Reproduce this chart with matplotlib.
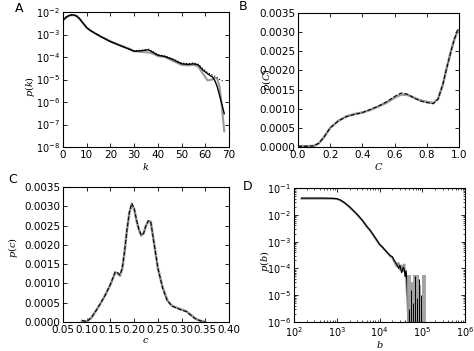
import matplotlib
matplotlib.use('Agg')
import matplotlib.pyplot as plt
from matplotlib.ticker import MultipleLocator, LogLocator

plt.rcParams['font.size'] = 7.5
plt.rcParams['mathtext.fontset'] = 'dejavuserif'
plt.rcParams['xtick.direction'] = 'in'
plt.rcParams['ytick.direction'] = 'in'
plt.rcParams['xtick.top'] = True
plt.rcParams['ytick.right'] = True

# panel A: degree distribution p(k)
kA = [0, 1, 2, 3, 4, 5, 6, 7, 8, 9, 10, 11, 12, 14, 16, 20, 24, 28, 30, 33, 36, 38, 40, 43, 46, 50, 53, 55, 57, 59, 61, 63, 64, 65, 66, 67, 68]
pA_black = [4.5e-3, 5.5e-3, 6.5e-3, 7.2e-3, 7.4e-3, 7.2e-3, 6.3e-3, 5.0e-3, 3.7e-3, 2.7e-3, 2.0e-3, 1.65e-3, 1.4e-3, 1.05e-3, 8.0e-4, 4.8e-4, 3.2e-4, 2.2e-4, 1.8e-4, 1.9e-4, 2.1e-4, 1.6e-4, 1.2e-4, 1.05e-4, 8.0e-5, 5.0e-5, 4.7e-5, 5.0e-5, 4.5e-5, 2.6e-5, 1.8e-5, 1.3e-5, 9.0e-6, 5.0e-6, 2.0e-6, 8.0e-7, 3.0e-7]
pA_dash = [4.8e-3, 5.8e-3, 6.8e-3, 7.4e-3, 7.5e-3, 7.3e-3, 6.5e-3, 5.1e-3, 3.8e-3, 2.8e-3, 2.1e-3, 1.7e-3, 1.45e-3, 1.1e-3, 8.2e-4, 5.0e-4, 3.3e-4, 2.3e-4, 1.9e-4, 2.0e-4, 2.2e-4, 1.7e-4, 1.3e-4, 1.1e-4, 8.5e-5, 5.5e-5, 5.0e-5, 5.5e-5, 4.8e-5, 3.0e-5, 2.0e-5, 1.6e-5, 1.4e-5, 1.2e-5, 1.0e-5, 9.0e-6, 8.0e-6]
pA_gray = [4.0e-3, 5.2e-3, 6.3e-3, 7.0e-3, 7.2e-3, 7.0e-3, 6.2e-3, 4.9e-3, 3.6e-3, 2.7e-3, 2.0e-3, 1.65e-3, 1.4e-3, 1.05e-3, 8.0e-4, 5.0e-4, 3.4e-4, 2.3e-4, 1.8e-4, 1.7e-4, 1.6e-4, 1.4e-4, 1.1e-4, 1.0e-4, 7.0e-5, 4.5e-5, 4.2e-5, 4.5e-5, 3.8e-5, 1.8e-5, 9.0e-6, 1.0e-5, 1.2e-5, 1.1e-5, 5.0e-6, 6.0e-7, 5.0e-8]

# panel B: p(C)
cB = [0.0, 0.05, 0.1, 0.13, 0.16, 0.2, 0.25, 0.3, 0.35, 0.4, 0.45, 0.5, 0.55, 0.6, 0.64, 0.68, 0.72, 0.76, 0.8, 0.84, 0.87, 0.9, 0.92, 0.95, 0.97, 0.99, 1.0]
pB_black = [0.00002, 0.00002, 0.00003, 0.0001, 0.00025, 0.0005, 0.00068, 0.00079, 0.00085, 0.00090, 0.00098, 0.00107, 0.00118, 0.00132, 0.00141, 0.00138, 0.00128, 0.00120, 0.00116, 0.00113, 0.00125, 0.00165, 0.0020, 0.0025, 0.0028, 0.00305, 0.00310]
pB_gray = [0.00002, 0.00002, 0.00003, 0.0001, 0.00025, 0.0005, 0.00068, 0.00080, 0.00086, 0.00090, 0.00097, 0.00106, 0.00116, 0.00129, 0.00137, 0.00136, 0.00129, 0.00122, 0.00118, 0.00115, 0.00126, 0.00163, 0.0020, 0.0025, 0.0028, 0.00300, 0.00305]

# panel C: p(c)
cC = [0.09, 0.10, 0.11, 0.12, 0.13, 0.14, 0.15, 0.16, 0.165, 0.17, 0.175, 0.18, 0.185, 0.19, 0.195, 0.20, 0.205, 0.21, 0.215, 0.22, 0.225, 0.23, 0.235, 0.24, 0.245, 0.25, 0.26, 0.27, 0.28, 0.29, 0.30, 0.31, 0.32, 0.33, 0.34, 0.35]
pC_black = [0.00004, 0.00001, 0.00012, 0.0003, 0.0005, 0.00072, 0.00098, 0.00130, 0.00128, 0.00122, 0.00140, 0.00185, 0.0024, 0.00285, 0.00308, 0.00295, 0.00265, 0.0024, 0.00225, 0.0023, 0.0025, 0.00263, 0.0026, 0.0022, 0.0018, 0.00140, 0.00088, 0.00055, 0.00041, 0.00036, 0.00031, 0.00027, 0.00017, 0.00008, 0.00003, 0.0]
pC_gray = [0.00003, 0.00001, 0.00011, 0.0003, 0.0005, 0.00072, 0.00097, 0.00128, 0.00126, 0.00120, 0.00138, 0.00183, 0.0024, 0.00283, 0.00305, 0.00293, 0.00263, 0.0024, 0.00224, 0.0023, 0.0025, 0.00261, 0.0026, 0.0022, 0.0018, 0.00140, 0.00090, 0.00056, 0.00042, 0.00037, 0.00032, 0.00028, 0.00018, 0.00008, 0.00003, 0.0]

# panel D: p(b)
bD = [150, 300, 500, 800, 1000, 1200, 1500, 2000, 2500, 3000, 4000, 5000, 6000, 8000, 10000, 12000, 15000, 18000, 20000, 22000, 25000, 28000, 30000, 33000, 36000, 38000, 40000, 42000, 44000, 46000, 48000]
pD_black = [0.042, 0.042, 0.042, 0.041, 0.040, 0.036, 0.029, 0.020, 0.014, 0.0105, 0.0062, 0.0038, 0.0027, 0.0014, 0.00080, 0.00060, 0.00040, 0.00030, 0.00027, 0.00020, 0.00015, 0.00010, 0.00013, 0.00007, 0.00011, 0.00009, 0.00005, 0.00008, 0.00003, 0.000005, 0.000001]
pD_gray = [0.040, 0.040, 0.040, 0.040, 0.039, 0.035, 0.028, 0.019, 0.0135, 0.0100, 0.0060, 0.0036, 0.0026, 0.0013, 0.00078, 0.00058, 0.00039, 0.00028, 0.00025, 0.00018, 0.00012, 0.00016, 0.00009, 0.00013, 0.00008, 0.00014, 0.00006, 0.00004, 0.00001, 0.000003, 0.000001]
spikes_gray = [47000, 53000, 59000, 65000, 72000, 80000, 90000, 102000, 118000]
spike_h_gray = [5.5e-5, 5.5e-5, 3.0e-5, 5.5e-5, 5.5e-5, 5.5e-5, 2.5e-5, 5.5e-5, 5.5e-5]
spikes_black = [50000, 55000, 61000, 68000, 76000, 85000, 95000]
spike_h_black = [3.0e-6, 1.5e-5, 5.0e-6, 5.0e-5, 8.0e-6, 4.0e-5, 1.0e-5]

fig = plt.figure(figsize=(4.74, 3.51), dpi=100)
W, H = 474.0, 351.0

def add_ax(l, t, r, b):
    return fig.add_axes([l / W, 1 - b / H, (r - l) / W, (b - t) / H])

axA = add_ax(63, 12, 229, 147)
axB = add_ax(298, 13, 459, 147)
axC = add_ax(63, 187, 229, 322)
axD = add_ax(294, 188, 465, 322)

gray = '#9a9a9a'

# A
axA.plot(kA, pA_gray, color=gray, linewidth=1.5)
axA.plot(kA, pA_black, color='black', linewidth=1.0)
axA.plot(kA, pA_dash, color='black', linewidth=0.8, linestyle=':')
axA.set_yscale('log')
axA.set_xlim(0, 70)
axA.set_ylim(1e-8, 1e-2)
axA.xaxis.set_major_locator(MultipleLocator(10))
axA.yaxis.set_major_locator(LogLocator(base=10, numticks=10))
axA.set_xlabel('$k$', labelpad=1)
axA.set_ylabel('$p(k)$')
axA.yaxis.set_label_coords(-0.155, 0.45)

# B
axB.plot(cB, pB_gray, color=gray, linewidth=1.8)
axB.plot(cB, pB_black, color='black', linewidth=0.8, linestyle='--')
axB.set_xlim(0, 1)
axB.set_ylim(0, 0.0035)
axB.set_yticks([0, 0.0005, 0.001, 0.0015, 0.002, 0.0025, 0.003, 0.0035])
axB.set_yticklabels(['0.0000', '0.0005', '0.0010', '0.0015', '0.0020', '0.0025', '0.0030', '0.0035'])
axB.set_xlabel('$C$', labelpad=1)
axB.set_ylabel('$p(C)$')
axB.yaxis.set_label_coords(-0.15, 0.5)

# C
axC.plot(cC, pC_gray, color=gray, linewidth=1.8)
axC.plot(cC, pC_black, color='black', linewidth=0.8, linestyle='--')
axC.set_xlim(0.05, 0.40)
axC.set_ylim(0, 0.0035)
axC.set_xticks([0.05, 0.10, 0.15, 0.20, 0.25, 0.30, 0.35, 0.40])
axC.set_xticklabels(['0.05', '0.10', '0.15', '0.20', '0.25', '0.30', '0.35', '0.40'])
axC.set_yticks([0, 0.0005, 0.001, 0.0015, 0.002, 0.0025, 0.003, 0.0035])
axC.set_yticklabels(['0.0000', '0.0005', '0.0010', '0.0015', '0.0020', '0.0025', '0.0030', '0.0035'])
axC.set_xlabel('$c$', labelpad=0)
axC.set_ylabel('$p(c)$')
axC.yaxis.set_label_coords(-0.26, 0.55)

# D
axD.plot(bD, pD_gray, color=gray, linewidth=1.5)
axD.plot(bD, pD_black, color='black', linewidth=0.9)
axD.vlines(spikes_gray, 1e-6, spike_h_gray, color=gray, linewidth=1.3)
axD.vlines(spikes_black, 1e-6, spike_h_black, color='black', linewidth=0.7)
axD.set_xscale('log')
axD.set_yscale('log')
axD.set_xlim(1e2, 1e6)
axD.set_ylim(1e-6, 1e-1)
axD.set_xlabel('$b$', labelpad=0)
axD.set_ylabel('$p(b)$')
axD.yaxis.set_label_coords(-0.13, 0.45)

for ax in [axA, axB, axC, axD]:
    ax.tick_params(length=3, width=0.6, pad=2, labelsize=7.5)
    ax.tick_params(which='minor', length=1.5, width=0.5)
    for s in ax.spines.values():
        s.set_linewidth(0.8)
    ax.xaxis.label.set_size(7)
    ax.yaxis.label.set_size(7)

axA.tick_params(axis='y', labelsize=7)
axD.tick_params(labelsize=7)

fig.text(15 / W, 1 - 8 / H, 'A', fontsize=9, va='center')
fig.text(239 / W, 1 - 7 / H, 'B', fontsize=9, va='center')
fig.text(8 / W, 1 - 180 / H, 'C', fontsize=9, va='center')
fig.text(243 / W, 1 - 186 / H, 'D', fontsize=9, va='center')

fig.savefig('out.png', dpi=100)
